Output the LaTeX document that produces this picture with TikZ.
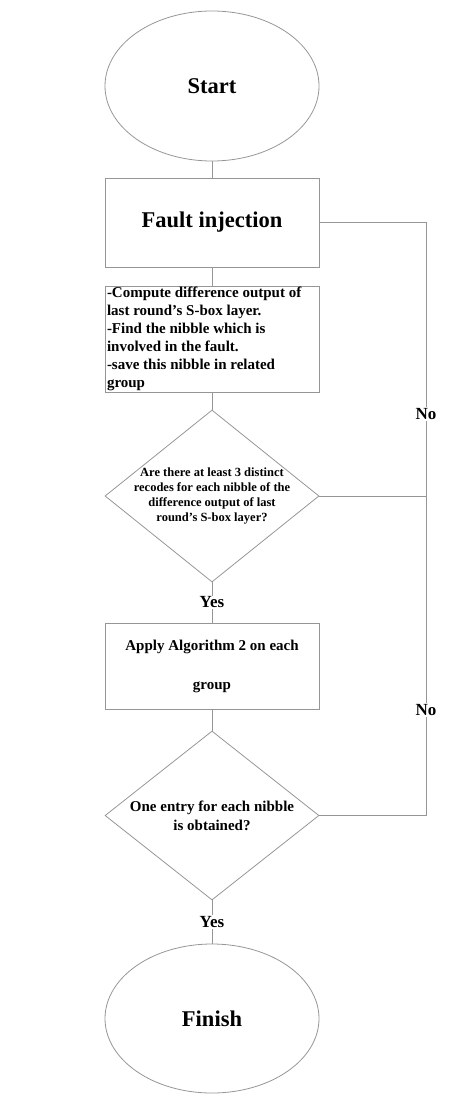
\documentclass[tikz,border=0pt]{standalone}
\usepackage{fontspec}
\setmainfont{Liberation Serif}
\usetikzlibrary{shapes.geometric}
\definecolor{linegray}{RGB}{150,150,150}

\begin{document}
\begin{tikzpicture}[x=1pt,y=-1pt,
    every node/.style={font=\bfseries},
    conn/.style={draw=linegray,line width=0.8pt},
    terminal/.style={ellipse,draw=linegray,line width=0.8pt,minimum width=214pt,minimum height=150pt,inner sep=0pt,font=\bfseries\fontsize{22.5}{27}\selectfont},
    process/.style={rectangle,draw=linegray,line width=0.8pt,minimum width=214pt,inner sep=0pt},
    decision/.style={diamond,draw=linegray,line width=0.8pt,minimum width=214pt,inner sep=0pt,align=center},
    answer/.style={fill=white,inner sep=1pt,font=\bfseries\fontsize{17}{20}\selectfont}]
  \useasboundingbox (0,0) rectangle (474,1105);
  \node[terminal] (start) at (212,86) {Start};
  \node[process,minimum height=89pt,font=\bfseries\fontsize{22.5}{27}\selectfont] (fault) at (212,222.5) {Fault injection};
  \node[process,minimum height=106pt,text width=210pt,inner xsep=2pt,align=flush left,font=\bfseries\fontsize{15}{18}\selectfont] (compute) at (212,339) {-Compute difference output of\\last round’s S-box layer.\\-Find the nibble which is\\involved in the fault.\\-save this nibble in related\\group};
  \node[decision,aspect=1.244,minimum height=172pt,inner sep=-4pt,font=\bfseries\fontsize{12.5}{15.3}\selectfont] (d1) at (212,496) {Are there at least 3 distinct\\recodes for each nibble of the\\difference output of last\\round’s S-box layer?};
  \node[process,minimum height=86pt,align=center,font=\bfseries\fontsize{15}{39}\selectfont] (apply) at (212,666) {Apply Algorithm 2 on each\\group};
  \node[decision,aspect=1.266,minimum height=169pt,font=\bfseries\fontsize{15}{19}\selectfont] (d2) at (212,815.5) {One entry for each nibble\\is obtained?};
  \node[terminal,minimum height=149pt] (finish) at (212,1018.5) {Finish};
  \coordinate (back) at (426,222.5);

  \draw[conn] (start) -- (fault);
  \draw[conn] (fault) -- (compute);
  \draw[conn] (compute) -- (d1);
  \draw[conn] (d1) -- node[answer]{Yes} (apply);
  \draw[conn] (apply) -- (d2);
  \draw[conn] (d2) -- node[answer]{Yes} (finish);
  \draw[conn] (d1.east) -| node[answer,pos=0.65]{No} (back) -- (fault.east);
  \draw[conn] (d2.east) -| node[answer,pos=0.665]{No} (d1.east -| back);
\end{tikzpicture}
\end{document}
